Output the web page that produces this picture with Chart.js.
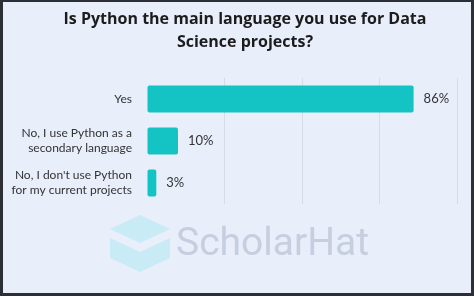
<!DOCTYPE html>
<html>
<head>
<meta charset="utf-8">
<script src="https://cdn.jsdelivr.net/npm/chart.js@4"></script>
<style>
  html, body { margin: 0; padding: 0; }
  body { width: 474px; height: 296px; background: #2c3036; position: relative; overflow: hidden; }
  #frame { position: absolute; left: 3px; top: 2px; width: 468px; height: 291px; background: #e9eefb; }
  #chart { display: block; }
</style>
</head>
<body>
<div id="frame"><canvas id="chart" width="468" height="291"></canvas></div>
<script>
const titleLines = ['Is Python the main language you use for Data', 'Science projects?'];
const categories = [
    'Yes',
    ['No, I use Python as a', 'secondary language'],
    ['No, I don\'t use Python', 'for my current projects']
];
const shares = [86, 10, 3];
const xTicks = [0, 25, 50, 75, 100];

// title sits a little right of the canvas centre, as in the original
const titleText = {
    id: 'titleText',
    afterDraw(chart) {
        const { ctx } = chart;
        ctx.save();
        ctx.font = 'bold 16px "Open Sans"';
        ctx.fillStyle = '#1c1c1c';
        ctx.textAlign = 'center';
        ctx.textBaseline = 'middle';
        titleLines.forEach((line, i) => ctx.fillText(line, 242, 17 + i * 23.4));
        ctx.restore();
    }
};

const valueLabels = {
    id: 'valueLabels',
    afterDatasetsDraw(chart) {
        const { ctx } = chart;
        const meta = chart.getDatasetMeta(0);
        ctx.save();
        ctx.font = '13px Lato';
        ctx.fillStyle = '#333333';
        ctx.textBaseline = 'middle';
        meta.data.forEach((bar, i) => {
            ctx.fillText(shares[i] + '%', bar.x + 10, bar.y);
        });
        ctx.restore();
    }
};

// faint brand watermark under the bars
const watermark = {
    id: 'watermark',
    afterDraw(chart) {
        const { ctx } = chart;
        ctx.save();
        ctx.fillStyle = '#c9ebf5';
        ctx.beginPath();
        ctx.moveTo(137, 213); ctx.lineTo(167, 227); ctx.lineTo(137, 241); ctx.lineTo(107, 227);
        ctx.closePath();
        ctx.fill();
        ctx.beginPath();
        ctx.moveTo(107, 236); ctx.lineTo(137, 250); ctx.lineTo(167, 236); ctx.lineTo(167, 256);
        ctx.lineTo(137, 270); ctx.lineTo(107, 256);
        ctx.closePath();
        ctx.fill();
        ctx.font = '39px Roboto';
        ctx.fillStyle = '#c6cfdf';
        ctx.textBaseline = 'alphabetic';
        ctx.fillText('ScholarHat', 173, 253);
        ctx.restore();
    }
};

new Chart(document.getElementById('chart'), {
    type: 'bar',
    data: {
        labels: categories,
        datasets: [{
            data: shares,
            backgroundColor: '#14c3c4',
            borderRadius: 2,
            borderSkipped: false,
            barPercentage: 0.64,
            categoryPercentage: 1
        }]
    },
    options: {
        indexAxis: 'y',
        responsive: false,
        animation: false,
        events: [],
        layout: { padding: { left: 0, right: 14, top: 76, bottom: 89 } },
        scales: {
            x: {
                min: 0,
                max: 100,
                afterBuildTicks(scale) { scale.ticks = xTicks.map(v => ({ value: v })); },
                ticks: { display: false },
                border: { display: false },
                grid: {
                    color: ctx => ctx.tick && ctx.tick.value === 0 ? 'rgba(0,0,0,0)' : '#d6dce6',
                    drawTicks: false
                }
            },
            y: {
                afterFit(scale) { scale.width = 144; },
                border: { display: false },
                grid: { display: false, drawTicks: false },
                ticks: {
                    color: '#333333',
                    padding: 15,
                    font: { family: 'Lato', size: 12, lineHeight: 1.25 }
                }
            }
        },
        plugins: {
            legend: { display: false },
            tooltip: { enabled: false },
            title: { display: false }
        }
    },
    plugins: [titleText, valueLabels, watermark]
});
</script>
</body>
</html>
